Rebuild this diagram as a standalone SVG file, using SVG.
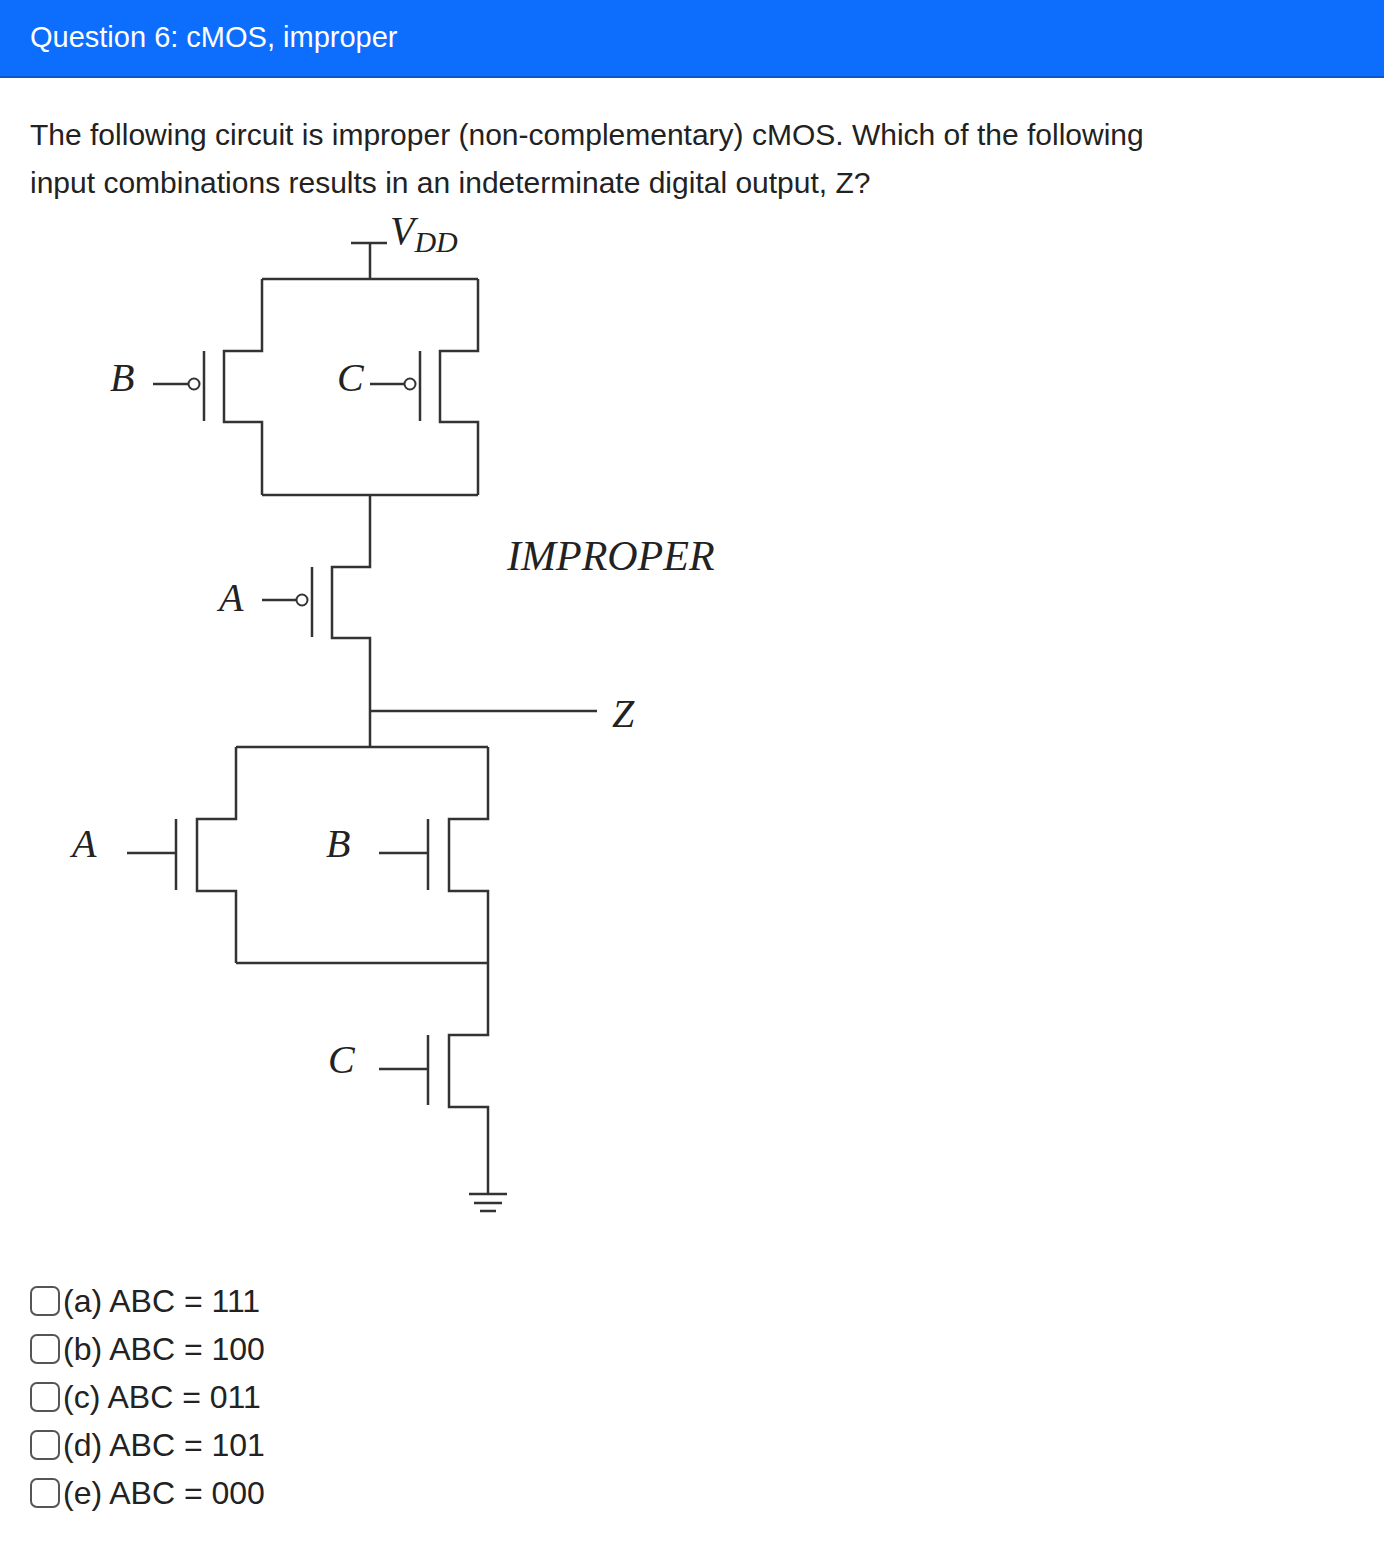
<svg xmlns="http://www.w3.org/2000/svg" width="1384" height="1546" viewBox="0 0 1384 1546">
<style>
.w{fill:none;stroke:#333;stroke-width:2.5}
.b{fill:#fff;stroke:#333;stroke-width:2}
.m{font-family:"Liberation Serif",serif;font-style:italic;fill:#222}
.t{font-family:"Liberation Sans",Arial,sans-serif;fill:#222}
.cb{fill:#fff;stroke:#555;stroke-width:2}
</style>
<rect width="1384" height="1546" fill="#fff"/>
<g id="header"><rect x="0" y="0" width="1384" height="77" fill="#0d6efd"/><rect x="0" y="76" width="1384" height="2" fill="#0a58ca"/>
<text x="30" y="47" class="t" font-size="29" style="fill:#fff">Question 6: cMOS, improper</text></g>
<g id="question" class="t" font-size="30">
<text x="30" y="145">The following circuit is improper (non-complementary) cMOS. Which of the following</text>
<text x="30" y="193">input combinations results in an indeterminate digital output, Z?</text></g>
<g id="connectors">
<path class="w" d="M351 243H387M370 243V279M262 279H478"/>
<path class="w" d="M262 279V351H224V422H262V495M478 279V351H440V422H478V495M262 495H478"/>
<path class="w" d="M370 495V567H332V638H370V746M370 711H597"/>
<path class="w" d="M236 747H488M236 747V819H197V891H236V963M488 747V819H449V891H488V963M236 963H488"/>
<path class="w" d="M488 963V1035H449V1107H488V1194M469 1194H507M474 1203H502M480 1211H496"/>
</g>
<g id="pB"><path class="w" d="M204 351V421M153 384H188"/><circle class="b" cx="194" cy="384" r="5.5"/><text x="110" y="391" class="m" font-size="40">B</text></g>
<g id="pC"><path class="w" d="M420 351V421M370 384H404"/><circle class="b" cx="410" cy="384" r="5.5"/><text x="337" y="391" class="m" font-size="40">C</text></g>
<g id="pA"><path class="w" d="M312 567V637M262 600H296"/><circle class="b" cx="302" cy="600" r="5.5"/><text x="219" y="611" class="m" font-size="40">A</text></g>
<g id="nA"><path class="w" d="M176 819V890M127 853H176"/><text x="72" y="857" class="m" font-size="40">A</text></g>
<g id="nB"><path class="w" d="M428 819V890M379 853H428"/><text x="326" y="857" class="m" font-size="40">B</text></g>
<g id="nC"><path class="w" d="M428 1035V1105M379 1069H428"/><text x="328" y="1073" class="m" font-size="40">C</text></g>
<g id="labels">
<text x="390" y="244" class="m" font-size="40">V<tspan font-size="30" dy="8">DD</tspan></text>
<text x="507" y="570" class="m" font-size="42">IMPROPER</text>
<text x="612" y="727" class="m" font-size="40">Z</text></g>
<g id="options" class="t" font-size="32">
<rect class="cb" x="31" y="1287" width="28" height="28" rx="6"/><text x="63" y="1312">(a) ABC = 111</text>
<rect class="cb" x="31" y="1335" width="28" height="28" rx="6"/><text x="63" y="1360">(b) ABC = 100</text>
<rect class="cb" x="31" y="1383" width="28" height="28" rx="6"/><text x="63" y="1408">(c) ABC = 011</text>
<rect class="cb" x="31" y="1431" width="28" height="28" rx="6"/><text x="63" y="1456">(d) ABC = 101</text>
<rect class="cb" x="31" y="1479" width="28" height="28" rx="6"/><text x="63" y="1504">(e) ABC = 000</text>
</g>
</svg>
